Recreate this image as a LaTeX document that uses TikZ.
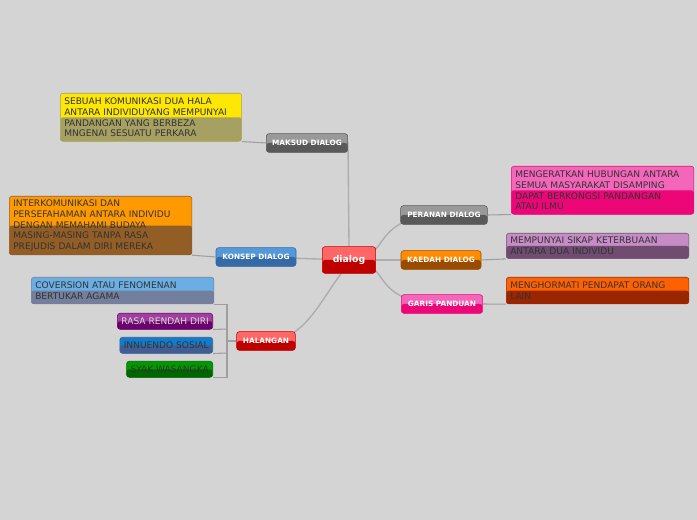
\documentclass[tikz,border=0pt]{standalone}
\usepackage{fontspec}
\setmainfont{DejaVu Sans}
\begin{document}
\begin{tikzpicture}[x=0.75pt,y=-0.75pt,
  tt/.style 2 args={rounded corners=2pt,fill=#1,draw=#2,line width=0.4pt,
    path picture={\fill[#2] (path picture bounding box.west) rectangle (path picture bounding box.south east);}},
  main/.style={font=\bfseries\fontsize{5.5}{6}\selectfont,text=white,inner sep=0pt,minimum height=14pt},
  leaf/.style={font=\fontsize{6.8}{8.2}\selectfont,text=black!80,align=left,inner xsep=3pt,inner ysep=0pt,anchor=north west,text width=#1},
  con/.style={draw=gray!65,line width=1pt},
  thin/.style={draw=gray!75,line width=0.8pt}]
\fill[black!17] (0,0) rectangle (697,520);
% connectors first
\coordinate (b) at (227,341);
\draw[con] (349,246) -- (348,143) -- (307,143);
\draw[con] (349,260) -- (256,257);
\draw[con] (349,260) ++(-5,10) .. controls (320,300) and (305,341) .. (266,341);
\draw[con] (349,260) -- (375,250) .. controls (385,240) and (390,215) .. (444,215);
\draw[con] (349,260) -- (441,260);
\draw[con] (349,260) -- (375,270) .. controls (385,280) and (390,304) .. (442,304);
% central
\node[tt={red!60!white}{red!75!black},minimum width=40pt,minimum height=20pt,font=\bfseries\fontsize{7}{8}\selectfont,text=white] (d) at (349,260) {dialog};
\node[tt={gray!80}{black!65},main,minimum width=61pt] (mak) at (307,143) {MAKSUD DIALOG};
\node[tt={cyan!60!blue!70}{cyan!50!blue!80!black},main,minimum width=60pt] (kon) at (256,257) {KONSEP DIALOG};
\node[tt={red!60!white}{red!75!black},main,minimum width=44pt] (hal) at (266,341) {HALANGAN};
\node[tt={gray!80}{black!65},main,minimum width=65pt] (per) at (444,215) {PERANAN DIALOG};
\node[tt={orange!90!yellow}{orange!60!black},main,minimum width=60pt] (kae) at (441,260) {KAEDAH DIALOG};
\node[tt={magenta!60!white}{magenta!80!red},main,minimum width=61pt] (gar) at (442,304) {GARIS PANDUAN};
% leaves
\node[tt={yellow!90!orange}{yellow!50!black!80!white},leaf=130pt,minimum height=36pt] (t1) at (60,93) {SEBUAH KOMUNIKASI DUA HALA\\ANTARA INDIVIDUYANG MEMPUNYAI\\PANDANGAN YANG BERBEZA\\MNGENAI SESUATU PERKARA};
\node[tt={orange!80!yellow}{orange!50!black!85!white},leaf=131pt,minimum height=44pt] (t2) at (9,196) {INTERKOMUNIKASI DAN\\PERSEFAHAMAN ANTARA INDIVIDU\\DENGAN MEMAHAMI BUDAYA\\MASING-MASING TANPA RASA\\PREJUDIS DALAM DIRI MEREKA};
\node[tt={cyan!70!blue!60}{cyan!40!blue!50!black!70},leaf=131pt,minimum height=20pt] (c1) at (31,277) {COVERSION ATAU FENOMENAN\\BERTUKAR AGAMA};
\node[tt={violet!75!white}{violet!85!black},font=\fontsize{6.8}{8}\selectfont,text=white!85!black,inner xsep=3pt,minimum height=12pt,anchor=north east] (c2) at (213,313) {RASA RENDAH DIRI};
\node[tt={cyan!60!blue}{cyan!40!blue!70!black},font=\fontsize{6.8}{8}\selectfont,text=black!80,inner xsep=3pt,minimum height=12pt,anchor=north east] (c3) at (213,337) {INNUENDO SOSIAL};
\node[tt={green!60!black}{green!40!black},font=\fontsize{6.8}{8}\selectfont,text=black!80,inner xsep=3pt,minimum height=12pt,anchor=north east] (c4) at (213,361) {SYAK WASANGKA};
\node[tt={magenta!60!white}{magenta!80!red},leaf=131pt,minimum height=36pt] (t3) at (511,166) {MENGERATKAN HUBUNGAN ANTARA\\SEMUA MASYARAKAT DISAMPING\\DAPAT BERKONGSI PANDANGAN\\ATAU ILMU};
\node[tt={violet!45!white}{violet!40!black!70},leaf=131pt,minimum height=19pt] (t4) at (506,233) {MEMPUNYAI SIKAP KETERBUAAN\\ANTARA DUA INDIVIDU};
\node[tt={orange!75!red}{orange!50!red!60!black},leaf=131pt,minimum height=20pt] (t5) at (506,277) {MENGHORMATI PENDAPAT ORANG\\LAIN};
% child links
\draw[thin] (mak.west) -- (t1.south east);
\draw[thin] (kon.west) -- (t2.south east);
\draw[thin] (per.east) -- (t3.south west);
\draw[thin] (kae.east) -- (t4.south west);
\draw[thin] (gar.east) -- (t5.south west);
\draw[thin] (hal.west) -- (b);
\draw[thin] (c1.south east) -| (b) |- (c4.south east);
\draw[thin] (c2.south east) -- (227,329);
\draw[thin] (c3.south east) -- (227,353);
\end{tikzpicture}
\end{document}
